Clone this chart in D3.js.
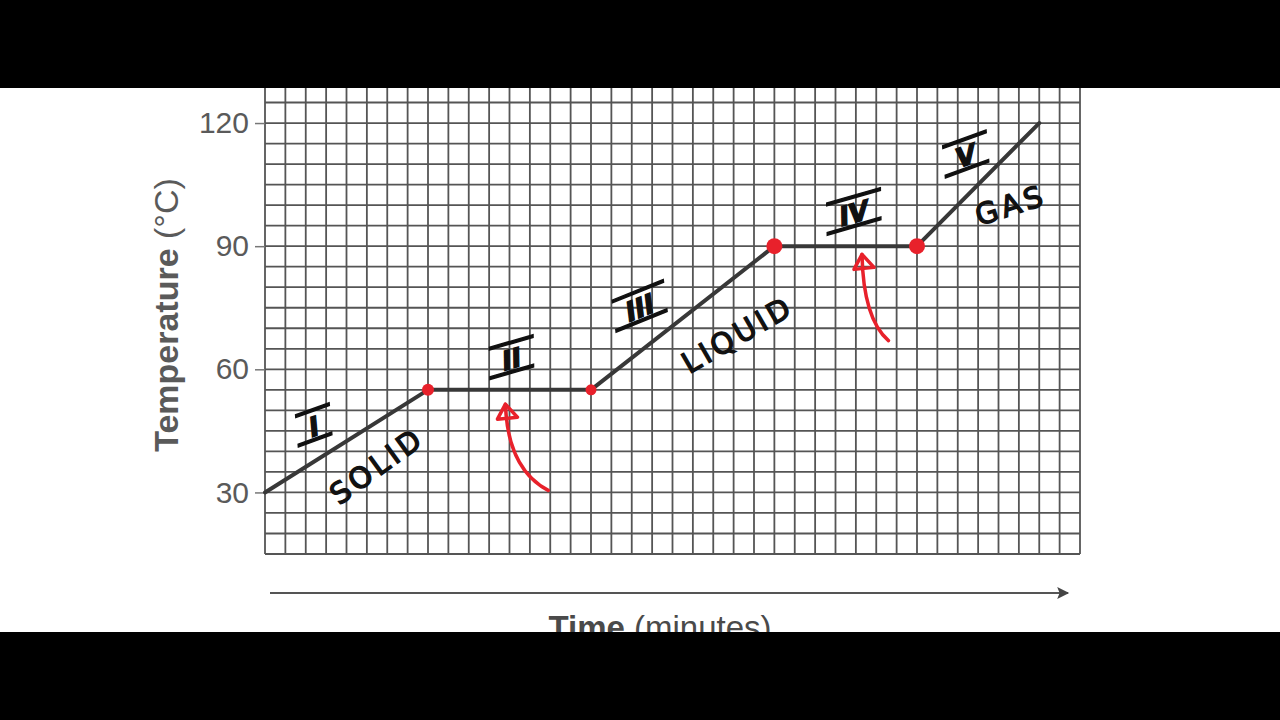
<!DOCTYPE html>
<html>
<head>
<meta charset="utf-8">
<script src="https://cdn.jsdelivr.net/npm/d3@7"></script>
<style>
  body { margin: 0; background: #000; }
  svg { display: block; }
</style>
</head>
<body>
<div id="chart"></div>
<script>
// heating curve values
var times = [0, 8, 16, 25, 32, 38];
var temps = [30, 55, 55, 90, 90, 120];
var yTicks = [30, 60, 90, 120];
var dotIndex = [1, 2, 3, 4];
var dotSize = [6, 5.5, 8, 8];

// hand written notes (time, temp, text, angle)
var phaseLabels = ["I", "II", "III", "IV", "V"];
var phaseTimes = [2.4, 12.1, 18.4, 28.9, 34.4];
var phaseTemps = [46, 62.5, 75, 98, 112];
var phaseAngles = [-20, -16, -22, -16, -20];
var stateLabels = ["SOLID", "LIQUID", "GAS"];
var stateTimes = [5.5, 23.2, 36.6];
var stateTemps = [36.5, 68.5, 100];
var stateAngles = [-36, -30, -18];

// red arrows: tail (time, temp) -> head (time, temp)
var arrowTail = [[13.9, 30.5], [30.6, 67]];
var arrowHead = [[11.8, 51.5], [29.3, 88]];

var W = 1280, H = 720;

var svg = d3.select("#chart")
    .append("svg")
    .attr("width", W)
    .attr("height", H);

svg.append("rect")
    .attr("width", W)
    .attr("height", H)
    .style("fill", "#fff");

var x = d3.scaleLinear().domain([0, 40]).range([265, 1080]);
var y = d3.scaleLinear().domain([15, 130]).range([554, 82]);

// graph paper
var grid = svg.append("g").attr("id", "grid");
grid.selectAll(".vline")
    .data(d3.range(0, 41))
    .enter().append("line")
    .attr("x1", d => x(d)).attr("x2", d => x(d))
    .attr("y1", y(15)).attr("y2", y(130))
    .style("stroke", "#555")
    .style("stroke-width", 1.8);
grid.selectAll(".hline")
    .data(d3.range(15, 131, 5))
    .enter().append("line")
    .attr("x1", x(0)).attr("x2", x(40))
    .attr("y1", d => y(d)).attr("y2", d => y(d))
    .style("stroke", "#555")
    .style("stroke-width", 1.8);

// y axis ticks and labels
var yAxis = d3.axisLeft(y)
    .tickValues(yTicks)
    .tickSize(10)
    .tickPadding(6);
var ya = svg.append("g")
    .attr("transform", "translate(" + x(0) + ",0)")
    .call(yAxis);
ya.select(".domain").remove();
ya.selectAll(".tick line").style("stroke", "#777").style("stroke-width", 1.5);
ya.selectAll(".tick text")
    .style("font-family", "Liberation Sans, Arial, sans-serif")
    .style("font-size", "30px")
    .style("fill", "#5a5a5a");

// axis titles
var yTitle = svg.append("text")
    .attr("transform", "translate(178,315) rotate(-90)")
    .attr("text-anchor", "middle")
    .style("font-family", "Liberation Sans, Arial, sans-serif")
    .style("font-size", "34px")
    .style("fill", "#5a5a5a");
yTitle.append("tspan").text("Temperature").style("font-weight", "bold");
yTitle.append("tspan").text(" (°C)");

var xTitle = svg.append("text")
    .attr("x", 660)
    .attr("y", 639)
    .attr("text-anchor", "middle")
    .style("font-family", "Liberation Sans, Arial, sans-serif")
    .style("font-size", "33px")
    .style("fill", "#4a4a4a");
xTitle.append("tspan").text("Time").style("font-weight", "bold");
xTitle.append("tspan").text(" (minutes)");

// time arrow
svg.append("defs").append("marker")
    .attr("id", "head")
    .attr("viewBox", "0 0 10 10")
    .attr("refX", 9).attr("refY", 5)
    .attr("markerWidth", 18).attr("markerHeight", 12)
    .attr("markerUnits", "userSpaceOnUse")
    .attr("orient", "auto")
    .append("path")
    .attr("d", "M0,0 L10,5 L0,10 L2,5 Z")
    .style("fill", "#444");
svg.append("line")
    .attr("x1", 270).attr("x2", 1068)
    .attr("y1", 593).attr("y2", 593)
    .attr("marker-end", "url(#head)")
    .style("stroke", "#555")
    .style("stroke-width", 2);

// heating curve
var pts = times.map((t, i) => [t, temps[i]]);
svg.append("path")
    .datum(pts)
    .attr("d", d3.line().x(d => x(d[0])).y(d => y(d[1])))
    .style("fill", "none")
    .style("stroke", "#383838")
    .style("stroke-width", 4)
    .style("stroke-linecap", "round")
    .style("stroke-linejoin", "round");

// red dots
svg.selectAll(".dot")
    .data(dotIndex)
    .enter().append("circle")
    .attr("cx", d => x(times[d]))
    .attr("cy", d => y(temps[d]))
    .attr("r", (d, i) => dotSize[i])
    .style("fill", "#e8212b");

// roman numerals, bars drawn as over/underline
svg.selectAll(".phase")
    .data(phaseLabels)
    .enter().append("text")
    .attr("transform", (d, i) => "translate(" + x(phaseTimes[i]) + "," + y(phaseTemps[i]) + ") rotate(" + phaseAngles[i] + ") skewX(-15)")
    .attr("text-anchor", "middle")
    .attr("dy", "0.35em")
    .style("font-family", "DejaVu Sans, sans-serif")
    .style("font-weight", "bold")
    .style("font-size", "26px")
    .style("text-decoration", "overline underline")
    .style("text-decoration-thickness", "4px")
    .style("fill", "#111")
    .style("stroke", "#111")
    .style("stroke-width", 1.5)
    .text(d => "\u2002" + d + "\u2002");

// state words
svg.selectAll(".state")
    .data(stateLabels)
    .enter().append("text")
    .attr("transform", (d, i) => "translate(" + x(stateTimes[i]) + "," + y(stateTemps[i]) + ") rotate(" + stateAngles[i] + ")")
    .attr("text-anchor", "middle")
    .attr("dy", "0.35em")
    .style("font-family", "DejaVu Sans, sans-serif")
    .style("font-size", "29px")
    .style("letter-spacing", "4px")
    .style("fill", "#111")
    .style("stroke", "#111")
    .style("stroke-width", 1.4)
    .text(d => d);

// red arrows
arrowTail.forEach(function(tail, i) {
    var head = arrowHead[i];
    var x0 = x(tail[0]), y0 = y(tail[1]);
    var x1 = x(head[0]), y1 = y(head[1]);
    var cx = x1 + (x0 - x1) * 0.05, cy = y0 - (y0 - y1) * 0.25;
    svg.append("path")
        .attr("d", "M" + x0 + "," + y0 + " Q" + cx + "," + cy + " " + x1 + "," + y1)
        .style("fill", "none")
        .style("stroke", "#e8212b")
        .style("stroke-width", 3.5)
        .style("stroke-linecap", "round");
    svg.append("path")
        .attr("d", "M" + (x1 - 8) + "," + (y1 + 15) + " L" + x1 + "," + y1 + " L" + (x1 + 12) + "," + (y1 + 13) + " Z")
        .style("fill", "none")
        .style("stroke", "#e8212b")
        .style("stroke-width", 3.5)
        .style("stroke-linejoin", "round");
});

// video letterbox
svg.append("rect").attr("x", 0).attr("y", 0).attr("width", W).attr("height", 88).style("fill", "#000");
svg.append("rect").attr("x", 0).attr("y", 632).attr("width", W).attr("height", 88).style("fill", "#000");
</script>
</body>
</html>
